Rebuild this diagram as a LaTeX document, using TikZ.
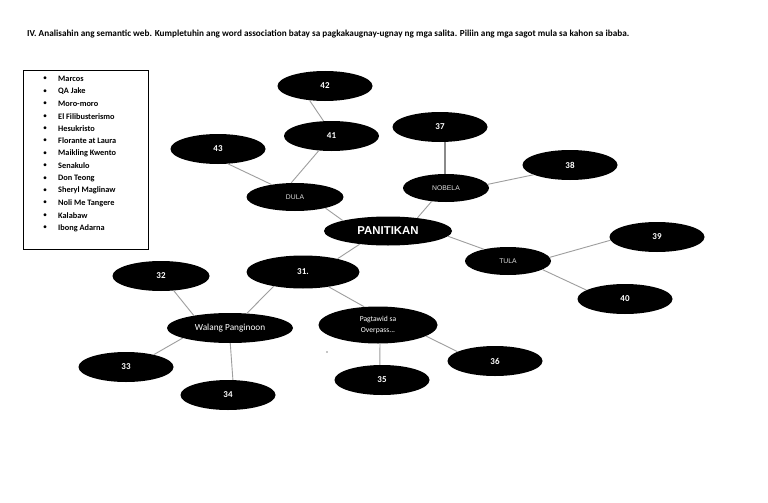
\documentclass[tikz,border=0pt]{standalone}
\usepackage{fontspec}
\setmainfont{Carlito}
\newfontfamily\arialfont{Liberation Sans}
\usetikzlibrary{shapes.geometric}
\tikzset{
  bub/.style={ellipse, fill=black, draw=none, inner sep=0pt, text=white,
    minimum width=95pt, minimum height=30pt, align=center,
    font=\bfseries\fontsize{9}{10}\selectfont},
  cat/.style={bub, minimum width=86pt, minimum height=28pt, text=black!12,
    font=\arialfont\fontsize{6.8}{8}\selectfont},
  link/.style={draw=black!38, line width=0.9pt},
  darklink/.style={draw=black!70, line width=1.3pt},
  item/.style={anchor=west, inner sep=0pt, font=\bfseries\fontsize{8.3}{10}\selectfont},
  dotitem/.style={inner sep=0pt, font=\fontsize{8}{10}\selectfont},
}
\begin{document}
\begin{tikzpicture}[x=1pt,y=-1pt]
\useasboundingbox[fill=white] (0,0) rectangle (768,503);

% title
\node[anchor=west, inner sep=0pt, font=\bfseries\fontsize{9.2}{11}\selectfont] (title) at (27,34)
  {IV. Analisahin ang semantic web. Kumpletuhin ang word association batay sa pagkakaugnay-ugnay ng mga salita. Piliin ang mga sagot mula sa kahon sa ibaba.};

% answer box
\node[draw=black, line width=0.9pt, minimum width=125pt, minimum height=179pt, inner sep=0pt] (box) at (85.5,159.5) {};
\foreach \t [count=\i] in {Marcos, QA Jake, Moro-moro, El Filibusterismo, Hesukristo, Florante at Laura, Maikling Kwento, Senakulo, Don Teong, Sheryl Maglinaw, Noli Me Tangere, Kalabaw, Ibong Adarna}{
  \node[dotitem] (b\i) at (45,{79+(\i-1)*12.4}) {\textbullet};
  \node[item] (it\i) at (58,{79+(\i-1)*12.4}) {\t};
}

% ellipses
\node[bub] (n42) at (325,86) {42};
\node[bub] (n41) at (331.5,136) {41};
\node[bub] (n43) at (218,149) {43};
\node[cat, minimum width=97pt] (dula) at (295,197) {DULA};
\node[bub] (n37) at (440,127) {37};
\node[bub] (n38) at (570,165) {38};
\node[cat] (nobela) at (446,188) {NOBELA};
\node[bub, minimum width=128pt, minimum height=29pt, font=\arialfont\bfseries\fontsize{11.4}{12}\selectfont] (pan) at (388,231) {PANITIKAN};
\node[cat] (tula) at (508,261) {TULA};
\node[bub] (n39) at (657,237) {39};
\node[bub] (n40) at (625,299) {40};
\node[bub, minimum width=113pt, minimum height=33pt] (n31) at (303,272) {31.};
\node[bub, minimum width=97pt] (n32) at (161,276) {32};
\node[bub, minimum width=126pt, minimum height=30pt, font=\fontsize{9.3}{10}\selectfont] (walang) at (230,328) {Walang Panginoon};
\node[bub, minimum width=119pt, minimum height=37pt, font=\fontsize{7.6}{10.7}\selectfont] (pag) at (378,325) {Pagtawid sa\\Overpass...};
\node[bub] (n33) at (126,367) {33};
\node[bub] (n34) at (228,395) {34};
\node[bub] (n35) at (382,380) {35};
\node[bub] (n36) at (495,361) {36};

% connectors
\draw[link] (n42.223) -- (n41.118);
\draw[link] (n41.229) -- (dula.105);
\draw[link] (n43.304) -- (dula.152);
\draw[link] (dula.340) -- (pan.167);
\draw[darklink] (n37.288) -- (nobela.94);
\draw[link] (nobela.5) -- (n38.195);
\draw[link] (nobela.223) -- (pan.24);
\draw[link] (pan.355) -- (tula.154);
\draw[link] (tula.5) -- (n39.184);
\draw[link] (tula.346) -- (n40.167);
\draw[link] (pan.205) -- (n31.21);
\draw[link] (n31.206) -- (walang.41);
\draw[link] (n32.311) -- (walang.161);
\draw[link] (n31.330) -- (pag.127);
\draw[link] (walang.192) -- (n33.24);
\draw[link] (walang.271) -- (n34.72);
\draw[link] (pag.276) -- (n35.98);
\draw[link] (pag.347) -- (n36.166);

% stray dot
\fill[black!45] (327,352) circle (0.8);
\end{tikzpicture}
\end{document}
